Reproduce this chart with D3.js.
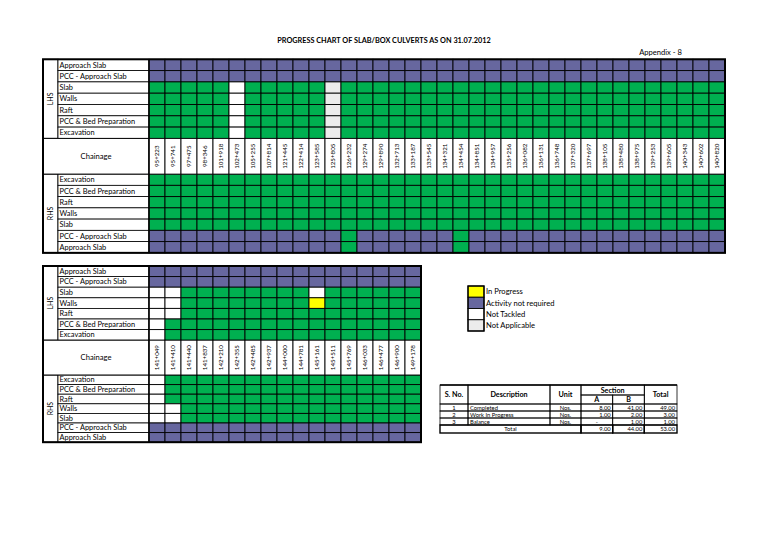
<!DOCTYPE html>
<html>
<head>
<meta charset="utf-8">
<script src="https://d3js.org/d3.v7.min.js"></script>
<style>
  body { margin: 0; background: #fff; }
  svg text { font-family: Lato, "Open Sans", sans-serif; fill: #000; }
</style>
</head>
<body>
<div id="chart"></div>
<script>
// activity rows as they sit on the sheet, top to bottom
const lhsActivities = ["Approach Slab", "PCC - Approach Slab", "Slab", "Walls", "Raft", "PCC & Bed Preparation", "Excavation"];
const rhsActivities = ["Excavation", "PCC & Bed Preparation", "Raft", "Walls", "Slab", "PCC - Approach Slab", "Approach Slab"];

const chainage1 = ["95+223", "95+741", "97+475", "98+346", "101+918", "102+473", "105+255", "107+814", "121+445",
  "122+414", "123+585", "125+805", "126+232", "129+274", "129+890", "132+713", "133+187", "133+545", "134+321",
  "134+454", "134+851", "134+957", "135+256", "136+082", "136+131", "136+748", "137+320", "137+697", "138+105",
  "138+480", "138+975", "139+253", "139+605", "140+343", "140+602", "140+820"];
const chainage2 = ["141+049", "141+410", "141+440", "141+837", "142+210", "142+355", "142+485", "142+937", "144+000",
  "144+781", "145+161", "145+511", "145+769", "146+033", "146+477", "146+900", "149+178"];

// status per cell: C completed, P in progress, N activity not required, T not tackled, A not applicable
// (spaces only group the cells for reading)
const lhs1 = [
  "NNNNNN NNNNNN NNNNNN NNNNNN NNNNNN NNNNNN",
  "NNNNNN NNNNNN NNNNNN NNNNNN NNNNNN NNNNNN",
  "CCCCCT CCCCCA CCCCCC CCCCCC CCCCCC CCCCCC",
  "CCCCCT CCCCCA CCCCCC CCCCCC CCCCCC CCCCCC",
  "CCCCCT CCCCCA CCCCCC CCCCCC CCCCCC CCCCCC",
  "CCCCCT CCCCCA CCCCCC CCCCCC CCCCCC CCCCCC",
  "CCCCCT CCCCCA CCCCCC CCCCCC CCCCCC CCCCCC"
];
const rhs1 = [
  "CCCCCC CCCCCC CCCCCC CCCCCC CCCCCC CCCCCC",
  "CCCCCC CCCCCC CCCCCC CCCCCC CCCCCC CCCCCC",
  "CCCCCC CCCCCC CCCCCC CCCCCC CCCCCC CCCCCC",
  "CCCCCC CCCCCC CCCCCC CCCCCC CCCCCC CCCCCC",
  "CCCCCC CCCCCC CCCCCC CCCCCC CCCCCC CCCCCC",
  "NNNNNN NNNNNN CNNNNN NCNNNN NNNNNN NNNNNN",
  "NNNNNN NNNNNN CNNNNN NCNNNN NNNNNN NNNNNN"
];
const lhs2 = [
  "NNNNN NNNNN NNNNN NN",
  "NNNNN NNNNN NNNNN NN",
  "TTCCC CCCCC TCCCC CC",
  "TTCCC CCCCC PCCCC CC",
  "TTCCC CCCCC CCCCC CC",
  "TCCCC CCCCC CCCCC CC",
  "TCCCC CCCCC CCCCC CC"
];
const rhs2 = [
  "TCCCC CCCCC CCCCC CC",
  "TCCCC CCCCC CCCCC CC",
  "TCCCC CCCCC CCCCC CC",
  "TTCCC CCCCC CCCCC CC",
  "TTCCC CCCCC CCCCC CC",
  "NNNNN NNNNN NNNNN NN",
  "NNNNN NNNNN NNNNN NN"
];

const legendCodes = ["P", "N", "T", "A"];
const legendLabels = ["In Progress", "Activity not required", "Not Tackled", "Not Applicable"];

const summaryNo = ["1", "2", "3"];
const summaryDesc = ["Completed", "Work In Progress", "Balance"];
const sectionA = [8, 1, null];
const sectionB = [41, 2, 1];
const rowTotal = [49, 3, 1];
const grandTotal = [9, 44, 53];

const w = 768, h = 543;
const colors = { C: "#00b050", P: "#ffff00", N: "#67679f", T: "#ffffff", A: "#ececec" };
const left = 43, sideW = 15, labelW = 91, colW = 16;
const fmt = d3.format(".2f");

const svg = d3.select("#chart").append("svg")
  .attr("width", w)
  .attr("height", h);

svg.append("text")
  .attr("x", w / 2)
  .attr("y", 43)
  .attr("text-anchor", "middle")
  .style("font-size", "7.3px")
  .style("font-weight", "bold")
  .text("PROGRESS CHART OF SLAB/BOX CULVERTS AS ON 31.07.2012");

svg.append("text")
  .attr("x", 682)
  .attr("y", 54.5)
  .attr("text-anchor", "end")
  .style("font-size", "7.6px")
  .text("Appendix - 8");

function cellsOf(rows, names, chain) {
  return rows.flatMap((s, i) => s.replace(/ /g, "").split("")
    .map((c, j) => ({ row: names[i], col: chain[j], code: c })));
}

function drawBlock(top, chain, lhs, rhs, lhsRowH, chainH, rhsRowH) {
  const g = svg.append("g");
  const x0 = left + sideW + labelW;
  const x1 = x0 + chain.length * colW;
  const chTop = top + 7 * lhsRowH;
  const rTop = chTop + chainH;
  const bottom = rTop + 7 * rhsRowH;

  const x = d3.scaleBand().domain(chain).range([x0, x1]);
  const yL = d3.scaleBand().domain(lhsActivities).range([top, chTop]);
  const yR = d3.scaleBand().domain(rhsActivities).range([rTop, bottom]);

  const sections = [
    { side: "LHS", y: yL, names: lhsActivities, rows: lhs },
    { side: "RHS", y: yR, names: rhsActivities, rows: rhs }
  ];

  sections.forEach(sec => {
    const [a, b] = sec.y.range();
    g.append("rect")
      .attr("x", left).attr("y", a)
      .attr("width", sideW).attr("height", b - a)
      .attr("fill", "#fff").attr("stroke", "#000").attr("stroke-width", 1);
    g.append("text")
      .attr("transform", `translate(${left + sideW / 2 + 0.5},${(a + b) / 2}) rotate(-90)`)
      .attr("text-anchor", "middle")
      .attr("dy", "0.35em")
      .style("font-size", "7px")
      .text(sec.side);

    g.selectAll(null)
      .data(sec.names)
      .enter()
      .append("rect")
      .attr("x", left + sideW)
      .attr("y", d => sec.y(d))
      .attr("width", labelW)
      .attr("height", sec.y.bandwidth())
      .attr("fill", "#fff")
      .attr("stroke", "#000")
      .attr("stroke-width", 0.8);

    g.selectAll(null)
      .data(sec.names)
      .enter()
      .append("text")
      .attr("x", left + sideW + 1.5)
      .attr("y", d => sec.y(d) + sec.y.bandwidth() / 2)
      .attr("dy", "0.35em")
      .style("font-size", "7.4px")
      .text(d => d);

    g.selectAll(null)
      .data(cellsOf(sec.rows, sec.names, chain))
      .enter()
      .append("rect")
      .attr("x", d => x(d.col))
      .attr("y", d => sec.y(d.row))
      .attr("width", x.bandwidth())
      .attr("height", sec.y.bandwidth())
      .attr("fill", d => colors[d.code])
      .attr("stroke", "#000")
      .attr("stroke-width", 0.9);
  });

  // chainage row
  g.append("rect")
    .attr("x", left).attr("y", chTop)
    .attr("width", sideW + labelW).attr("height", chainH)
    .attr("fill", "#fff").attr("stroke", "#000").attr("stroke-width", 1);
  g.append("text")
    .attr("x", left + (sideW + labelW) / 2)
    .attr("y", chTop + chainH / 2)
    .attr("dy", "0.35em")
    .attr("text-anchor", "middle")
    .style("font-size", "7.6px")
    .text("Chainage");

  g.selectAll(null)
    .data(chain)
    .enter()
    .append("rect")
    .attr("x", d => x(d))
    .attr("y", chTop)
    .attr("width", x.bandwidth())
    .attr("height", chainH)
    .attr("fill", "#fff")
    .attr("stroke", "#000")
    .attr("stroke-width", 0.9);

  g.selectAll(null)
    .data(chain)
    .enter()
    .append("text")
    .attr("transform", d => `translate(${x(d) + x.bandwidth() / 2},${chTop + chainH / 2}) rotate(-90)`)
    .attr("text-anchor", "middle")
    .attr("dy", "0.35em")
    .style("font-size", "6.2px")
    .text(d => d);

  g.append("line")
    .attr("x1", x0).attr("x2", x0)
    .attr("y1", top).attr("y2", bottom)
    .attr("stroke", "#000").attr("stroke-width", 1.4);

  g.append("rect")
    .attr("x", left).attr("y", top)
    .attr("width", x1 - left).attr("height", bottom - top)
    .attr("fill", "none")
    .attr("stroke", "#000")
    .attr("stroke-width", 2);
}

drawBlock(59.3, chainage1, lhs1, rhs1, 11.3, 35.7, 11.25);
drawBlock(266, chainage2, lhs2, rhs2, 10.6, 34.8, 9.6);

// legend
const ly = d3.scaleBand().domain(legendCodes).range([286, 331]);
const legend = svg.append("g");
legend.selectAll("rect")
  .data(legendCodes)
  .enter()
  .append("rect")
  .attr("x", 468)
  .attr("y", d => ly(d))
  .attr("width", 16)
  .attr("height", ly.bandwidth())
  .attr("fill", d => colors[d])
  .attr("stroke", "#000")
  .attr("stroke-width", 0.9);
legend.append("rect")
  .attr("x", 468).attr("y", 286)
  .attr("width", 16).attr("height", 45)
  .attr("fill", "none").attr("stroke", "#000").attr("stroke-width", 1.3);
legend.selectAll("text")
  .data(legendCodes)
  .enter()
  .append("text")
  .attr("x", 486)
  .attr("y", d => ly(d) + ly.bandwidth() / 2)
  .attr("dy", "0.35em")
  .style("font-size", "7.6px")
  .text((d, i) => legendLabels[i]);

// summary table
const sx = [440, 468, 550, 581, 612.7, 644.3, 677];
const rowY = d3.scaleBand().domain(summaryNo).range([404, 425]);
const tbl = svg.append("g");

function cell(x1, y1, x2, y2, txt, align, bold, sw) {
  tbl.append("rect")
    .attr("x", x1).attr("y", y1)
    .attr("width", x2 - x1).attr("height", y2 - y1)
    .attr("fill", "none").attr("stroke", "#000").attr("stroke-width", sw || 0.8);
  if (txt == null) return;
  const tx = align === "start" ? x1 + 2 : align === "end" ? x2 - 2 : (x1 + x2) / 2;
  tbl.append("text")
    .attr("x", tx)
    .attr("y", (y1 + y2) / 2)
    .attr("dy", "0.35em")
    .attr("text-anchor", align)
    .style("font-size", bold ? "7.2px" : "5.8px")
    .style("font-weight", bold ? "bold" : "normal")
    .text(txt);
}

cell(sx[0], 385, sx[1], 404, "S. No.", "middle", true);
cell(sx[1], 385, sx[2], 404, "Description", "middle", true);
cell(sx[2], 385, sx[3], 404, "Unit", "middle", true);
cell(sx[3], 385, sx[5], 395, "Section", "middle", true);
cell(sx[3], 395, sx[4], 404, "A", "middle", true);
cell(sx[4], 395, sx[5], 404, "B", "middle", true);
cell(sx[5], 385, sx[6], 404, "Total", "middle", true);

summaryNo.forEach((n, i) => {
  const y1 = rowY(n), y2 = y1 + rowY.bandwidth();
  cell(sx[0], y1, sx[1], y2, n, "middle");
  cell(sx[1], y1, sx[2], y2, summaryDesc[i], "start");
  cell(sx[2], y1, sx[3], y2, "Nos.", "middle");
  cell(sx[3], y1, sx[4], y2, sectionA[i] == null ? "-" : fmt(sectionA[i]), sectionA[i] == null ? "middle" : "end");
  cell(sx[4], y1, sx[5], y2, fmt(sectionB[i]), "end");
  cell(sx[5], y1, sx[6], y2, fmt(rowTotal[i]), "end");
});

cell(sx[0], 425, sx[3], 433, "Total", "middle", false, 1.4);
cell(sx[3], 425, sx[4], 433, fmt(grandTotal[0]), "end", false, 1.4);
cell(sx[4], 425, sx[5], 433, fmt(grandTotal[1]), "end", false, 1.4);
cell(sx[5], 425, sx[6], 433, fmt(grandTotal[2]), "end", false, 1.4);
tbl.append("line")
  .attr("x1", sx[0]).attr("x2", sx[6])
  .attr("y1", 385).attr("y2", 385)
  .attr("stroke", "#000").attr("stroke-width", 1.6);
</script>
</body>
</html>
